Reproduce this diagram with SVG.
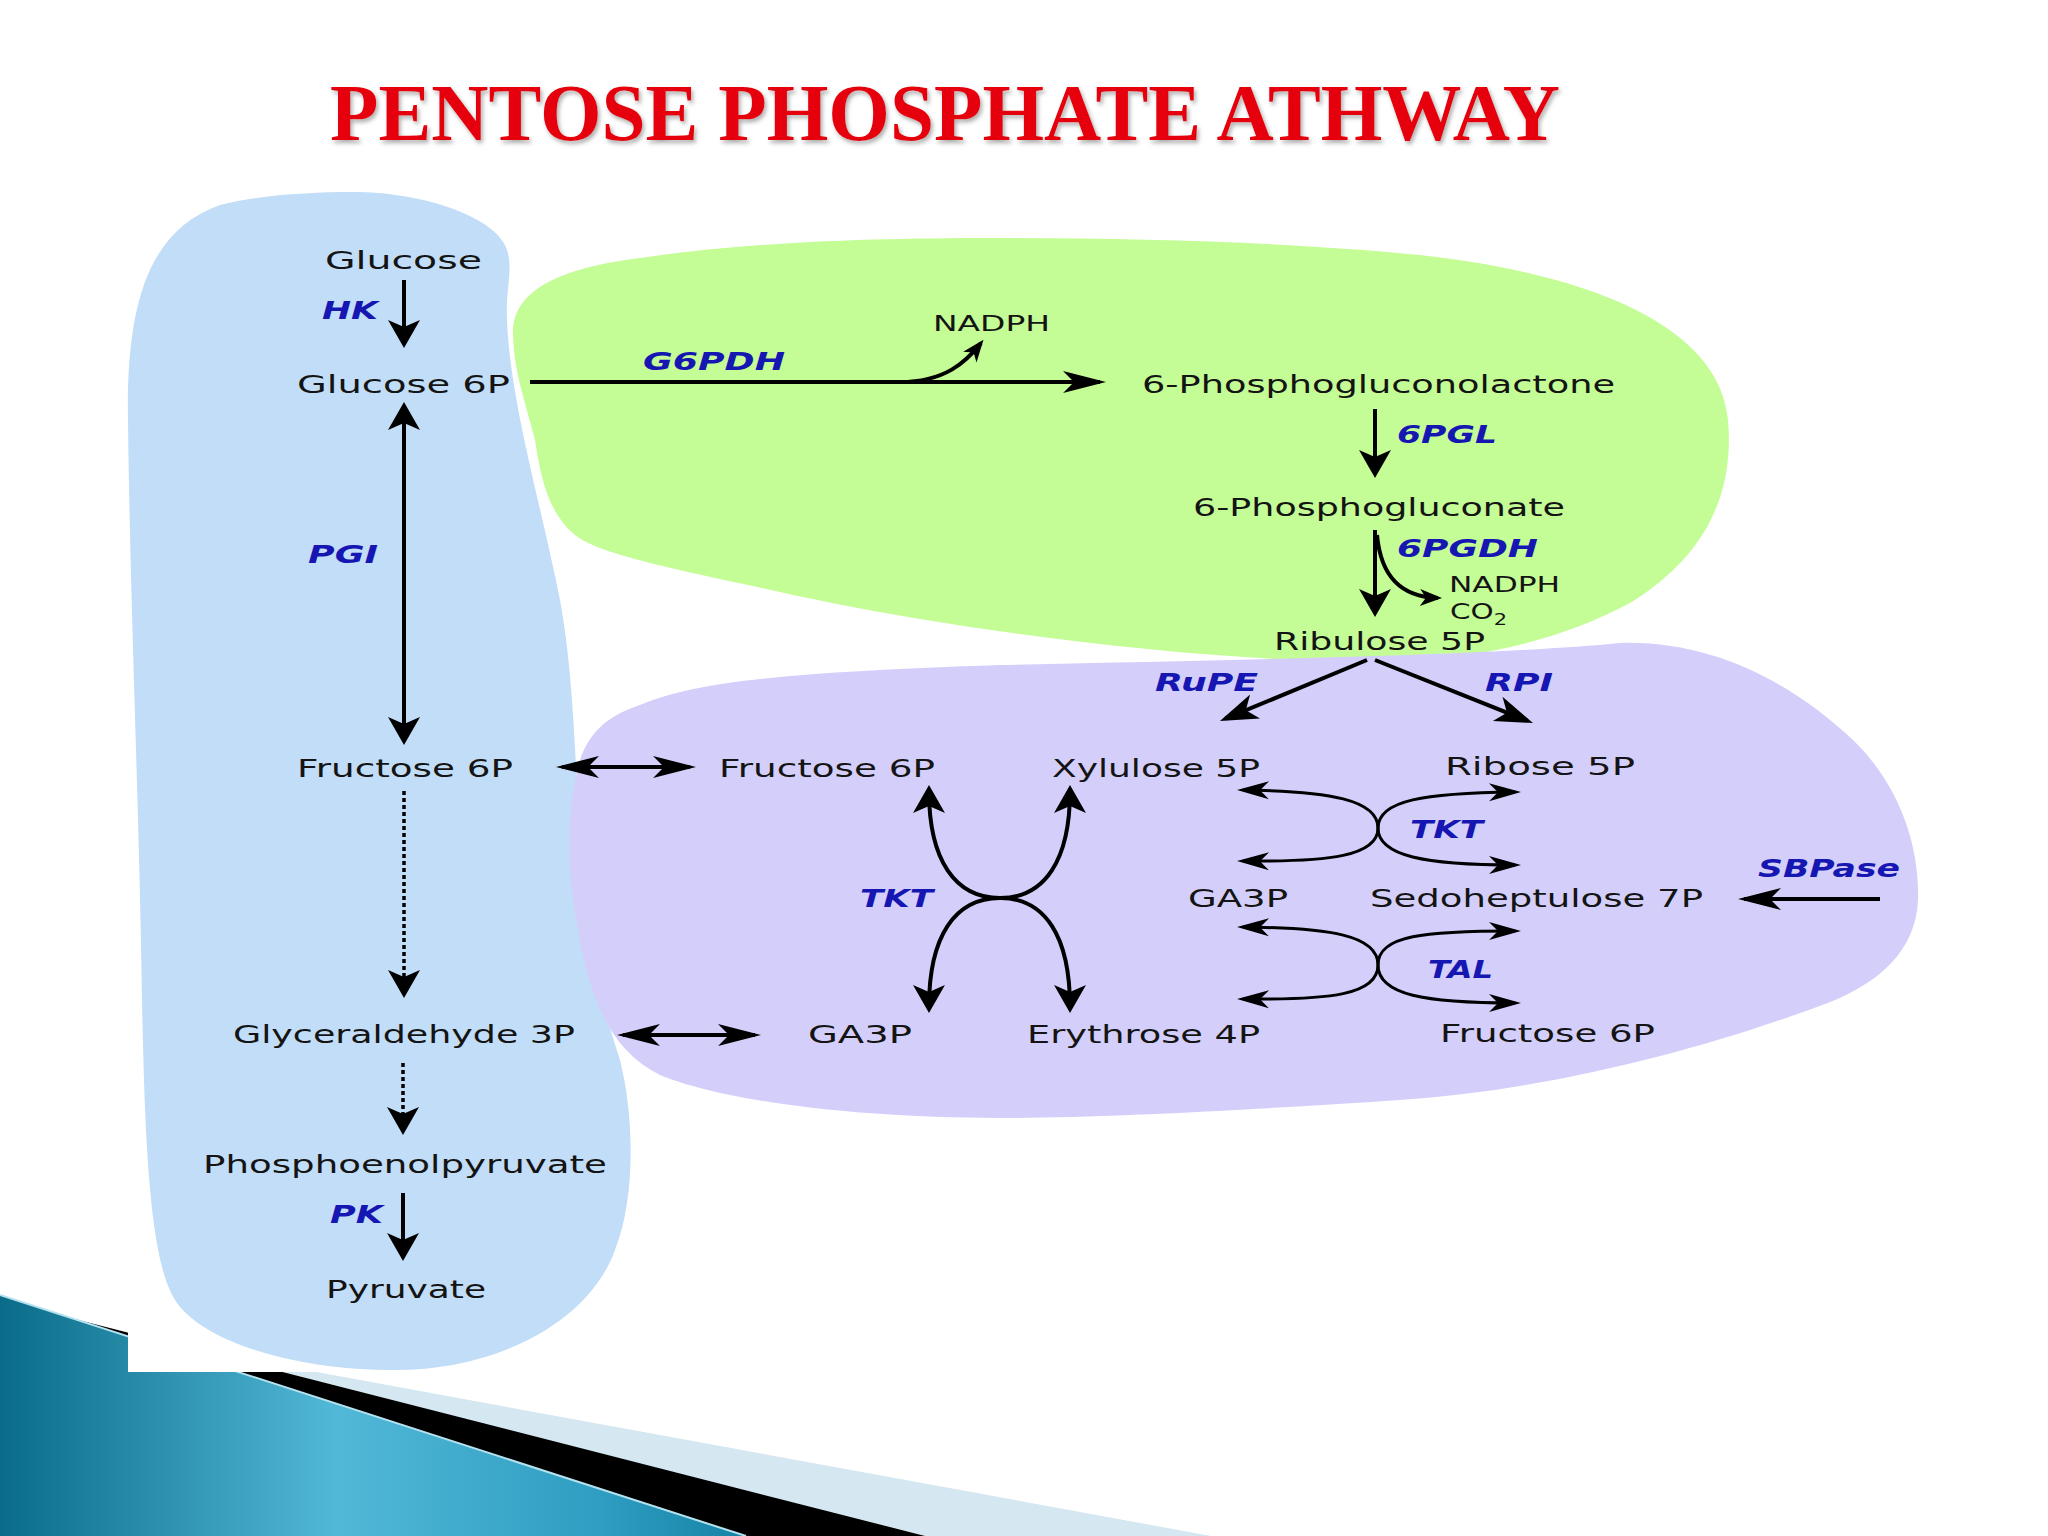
<svg xmlns="http://www.w3.org/2000/svg" width="2048" height="1536" viewBox="0 0 2048 1536">
<defs>
<style>
.lbl{font-family:"DejaVu Sans",Verdana,sans-serif;font-size:25px;fill:#141414;}
.sm{font-size:21px;}
.enz{font-family:"DejaVu Sans",Verdana,sans-serif;font-size:25px;font-weight:bold;font-style:italic;fill:#1616b2;}
.ln{fill:none;stroke:#000;stroke-width:4;}
.thin{stroke-width:3;}
.dot{stroke-dasharray:4 3;stroke-width:3.5;}
.title{font-family:"Liberation Serif","Times New Roman",serif;font-weight:bold;font-size:80px;fill:#e6000a;}
.ah{fill:#000;}
</style>
<marker id="aV" markerUnits="userSpaceOnUse" markerWidth="30" markerHeight="34" refX="22" refY="16" orient="auto-start-reverse" overflow="visible"><path class="ah" d="M0,0 L28,16 L0,32 L7,16 Z"/></marker>
<marker id="aH" markerUnits="userSpaceOnUse" markerWidth="45" markerHeight="24" refX="37" refY="11" orient="auto-start-reverse" overflow="visible"><path class="ah" d="M0,0 L43,11 L0,22 L11,11 Z"/></marker>
<marker id="aD" markerUnits="userSpaceOnUse" markerWidth="40" markerHeight="28" refX="32" refY="13" orient="auto" overflow="visible"><path class="ah" d="M0,0 L38,13 L0,26 L10,13 Z"/></marker>
<marker id="aS" markerUnits="userSpaceOnUse" markerWidth="34" markerHeight="20" refX="26" refY="9" orient="auto" overflow="visible"><path class="ah" d="M0,0 L32,9 L0,18 L9,9 Z"/></marker>
<marker id="aT" markerUnits="userSpaceOnUse" markerWidth="24" markerHeight="19" refX="18" refY="8.5" orient="auto" overflow="visible"><path class="ah" d="M0,0 L22,8.5 L0,17 L6,8.5 Z"/></marker>
<linearGradient id="teal" x1="0" y1="0" x2="1" y2="0">
<stop offset="0" stop-color="#0a6c88"/>
<stop offset="0.45" stop-color="#52b8d7"/>
<stop offset="0.8" stop-color="#2f9ec2"/>
<stop offset="1" stop-color="#1583a6"/>
</linearGradient>
<filter id="shadow" x="-5%" y="-20%" width="110%" height="150%">
<feDropShadow dx="2" dy="3" stdDeviation="2" flood-color="#777" flood-opacity="0.6"/>
</filter>
</defs>

<rect x="0" y="0" width="2048" height="1536" fill="#ffffff"/>

<g id="slide-decoration">
<polygon points="0,1314 1211,1536 0,1536" fill="#d5e7f0"/>
<polygon points="0,1300 925,1536 0,1536" fill="#000000"/>
<polygon points="0,1295 746,1536 0,1536" fill="url(#teal)"/>
<line x1="0" y1="1295" x2="746" y2="1536" stroke="#b5e2ef" stroke-width="2"/>
<rect x="128" y="0" width="1920" height="1372" fill="#ffffff"/>
</g>

<g id="title">
<text class="title" x="330" y="140" textLength="1230" lengthAdjust="spacingAndGlyphs" filter="url(#shadow)">PENTOSE PHOSPHATE ATHWAY</text>
</g>

<g id="regions">
<path id="glycolysis-region" fill="#c2ddf7" d="M353,192 C420,192 490,215 505,245 C515,265 505,290 507,320 C510,400 540,500 560,600 C575,680 575,780 582,860 C590,950 600,1000 620,1060 C635,1120 635,1200 615,1250 C590,1320 500,1370 395,1370 C290,1370 200,1340 175,1300 C150,1260 145,1150 142,1000 C139,800 130,600 128,420 C126,300 150,230 220,205 C260,195 310,192 353,192 Z"/>
<path id="oxidative-region" fill="#c4fc95" d="M513,330 C515,290 560,268 640,258 C760,240 900,238 1000,238 C1150,238 1300,243 1420,255 C1600,275 1720,330 1728,420 C1735,500 1700,560 1630,603 C1560,640 1480,660 1380,662 C1200,662 950,630 780,592 C680,570 600,555 575,535 C545,510 540,470 535,440 C525,400 513,370 513,330 Z"/>
<path id="nonoxidative-region" fill="#d4cffa" d="M640,705 C700,680 800,672 1000,665 C1250,660 1500,655 1620,643 C1720,640 1800,690 1853,740 C1895,780 1920,840 1918,900 C1916,950 1880,985 1817,1007 C1700,1050 1550,1090 1400,1100 C1250,1110 1100,1118 1000,1118 C850,1118 720,1100 660,1075 C610,1050 590,1000 578,930 C566,870 566,810 580,760 C590,730 610,715 640,705 Z"/>
</g>

<g id="connectors">
<path class="ln" d="M404,280 V342" marker-end="url(#aV)"/>
<path class="ln" d="M530,382 H1100" marker-end="url(#aH)"/>
<path class="ln" d="M900,382 C945,382 966,362 981,343" marker-end="url(#aT)"/>
<path class="ln" d="M1375,409 V472" marker-end="url(#aV)"/>
<path class="ln" d="M1375,530 V611" marker-end="url(#aV)"/>
<path class="ln" d="M1377,535 C1381,578 1402,597 1438,598" marker-end="url(#aT)"/>
<path class="ln" d="M404,408 V739" marker-start="url(#aV)" marker-end="url(#aV)"/>
<path class="ln" d="M562,767 H690" marker-start="url(#aH)" marker-end="url(#aH)"/>
<path class="ln dot" d="M404,791 V992" marker-end="url(#aV)"/>
<path class="ln" d="M623,1035 H755" marker-start="url(#aH)" marker-end="url(#aH)"/>
<path class="ln dot" d="M403,1063 V1129" marker-end="url(#aV)"/>
<path class="ln" d="M403,1193 V1255" marker-end="url(#aV)"/>
<path class="ln" d="M1367,660 L1225.5,718.7" marker-end="url(#aD)"/>
<path class="ln" d="M1375,660 L1527.4,720.8" marker-end="url(#aD)"/>
<path class="ln" d="M1000,898 C955,898 929,860 929,791" marker-end="url(#aV)"/>
<path class="ln" d="M1000,898 C1045,898 1070,860 1070,791" marker-end="url(#aV)"/>
<path class="ln" d="M1000,898 C955,898 929,936 929,1007" marker-end="url(#aV)"/>
<path class="ln" d="M1000,898 C1045,898 1070,936 1070,1007" marker-end="url(#aV)"/>
<path class="ln thin" d="M1378,828 C1378,800 1330,791 1243,790" marker-end="url(#aS)"/>
<path class="ln thin" d="M1378,828 C1378,856 1330,862 1243,861" marker-end="url(#aS)"/>
<path class="ln thin" d="M1378,828 C1378,800 1425,793 1515,792" marker-end="url(#aS)"/>
<path class="ln thin" d="M1378,828 C1378,856 1425,865 1515,865" marker-end="url(#aS)"/>
<path class="ln thin" d="M1378,965 C1378,935 1330,928 1243,927" marker-end="url(#aS)"/>
<path class="ln thin" d="M1378,965 C1378,995 1330,1000 1243,999" marker-end="url(#aS)"/>
<path class="ln thin" d="M1378,965 C1378,935 1425,931 1515,931" marker-end="url(#aS)"/>
<path class="ln thin" d="M1378,965 C1378,995 1425,1003 1515,1003" marker-end="url(#aS)"/>
<path class="ln" d="M1880,899 H1744" marker-end="url(#aH)"/>
</g>

<g id="enzymes">
<text class="enz" x="322" y="319" textLength="56" lengthAdjust="spacingAndGlyphs">HK</text>
<text class="enz" x="643" y="370" textLength="142" lengthAdjust="spacingAndGlyphs">G6PDH</text>
<text class="enz" x="1397" y="443" textLength="100" lengthAdjust="spacingAndGlyphs">6PGL</text>
<text class="enz" x="1397" y="557" textLength="141" lengthAdjust="spacingAndGlyphs">6PGDH</text>
<text class="enz" x="308" y="563" textLength="70" lengthAdjust="spacingAndGlyphs">PGI</text>
<text class="enz" x="1155" y="691" textLength="103" lengthAdjust="spacingAndGlyphs">RuPE</text>
<text class="enz" x="1485" y="691" textLength="68" lengthAdjust="spacingAndGlyphs">RPI</text>
<text class="enz" x="860" y="907" textLength="73" lengthAdjust="spacingAndGlyphs">TKT</text>
<text class="enz" x="1410" y="838" textLength="73" lengthAdjust="spacingAndGlyphs">TKT</text>
<text class="enz" x="1758" y="877" textLength="142" lengthAdjust="spacingAndGlyphs">SBPase</text>
<text class="enz" x="1428" y="978" textLength="65" lengthAdjust="spacingAndGlyphs">TAL</text>
<text class="enz" x="330" y="1223" textLength="53" lengthAdjust="spacingAndGlyphs">PK</text>
</g>

<g id="node-glucose"><text class="lbl" x="325" y="269" textLength="157" lengthAdjust="spacingAndGlyphs">Glucose</text></g>
<g id="node-glucose6p"><text class="lbl" x="297" y="393" textLength="213" lengthAdjust="spacingAndGlyphs">Glucose 6P</text></g>
<g id="node-nadph1"><text class="lbl sm" x="933" y="331" textLength="117" lengthAdjust="spacingAndGlyphs">NADPH</text></g>
<g id="node-6pgl"><text class="lbl" x="1142" y="393" textLength="473" lengthAdjust="spacingAndGlyphs">6-Phosphogluconolactone</text></g>
<g id="node-6pg"><text class="lbl" x="1193" y="516" textLength="372" lengthAdjust="spacingAndGlyphs">6-Phosphogluconate</text></g>
<g id="node-nadph2"><text class="lbl sm" x="1449" y="592" textLength="111" lengthAdjust="spacingAndGlyphs">NADPH</text></g>
<g id="node-co2"><text class="lbl sm" transform="translate(1450,619) scale(1.4,1)">CO<tspan dy="6" font-size="15">2</tspan></text></g>
<g id="node-ribulose5p"><text class="lbl" x="1274" y="650" textLength="211" lengthAdjust="spacingAndGlyphs">Ribulose 5P</text></g>
<g id="node-fructose6p-a"><text class="lbl" x="297" y="777" textLength="216" lengthAdjust="spacingAndGlyphs">Fructose 6P</text></g>
<g id="node-fructose6p-b"><text class="lbl" x="719" y="777" textLength="216" lengthAdjust="spacingAndGlyphs">Fructose 6P</text></g>
<g id="node-xylulose5p"><text class="lbl" x="1052" y="777" textLength="208" lengthAdjust="spacingAndGlyphs">Xylulose 5P</text></g>
<g id="node-ribose5p"><text class="lbl" x="1445" y="775" textLength="190" lengthAdjust="spacingAndGlyphs">Ribose 5P</text></g>
<g id="node-ga3p-a"><text class="lbl" x="1188" y="907" textLength="100" lengthAdjust="spacingAndGlyphs">GA3P</text></g>
<g id="node-s7p"><text class="lbl" x="1370" y="907" textLength="333" lengthAdjust="spacingAndGlyphs">Sedoheptulose 7P</text></g>
<g id="node-g3p"><text class="lbl" x="233" y="1043" textLength="342" lengthAdjust="spacingAndGlyphs">Glyceraldehyde 3P</text></g>
<g id="node-ga3p-b"><text class="lbl" x="808" y="1043" textLength="104" lengthAdjust="spacingAndGlyphs">GA3P</text></g>
<g id="node-erythrose4p"><text class="lbl" x="1027" y="1043" textLength="233" lengthAdjust="spacingAndGlyphs">Erythrose 4P</text></g>
<g id="node-fructose6p-c"><text class="lbl" x="1440" y="1042" textLength="215" lengthAdjust="spacingAndGlyphs">Fructose 6P</text></g>
<g id="node-pep"><text class="lbl" x="203" y="1173" textLength="404" lengthAdjust="spacingAndGlyphs">Phosphoenolpyruvate</text></g>
<g id="node-pyruvate"><text class="lbl" x="326" y="1298" textLength="160" lengthAdjust="spacingAndGlyphs">Pyruvate</text></g>
</svg>
